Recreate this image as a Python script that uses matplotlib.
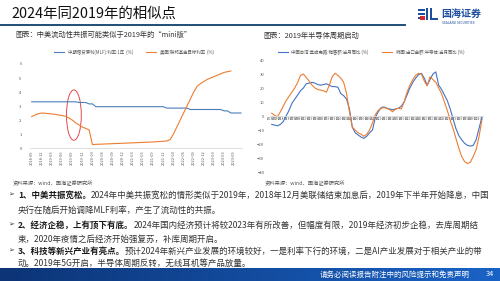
# Slide: two small Wind-style line charts plus bullet notes (2024 vs 2019)

import matplotlib.pyplot as plt
import matplotlib.patches as mpatches
from matplotlib.lines import Line2D
from matplotlib.colors import LinearSegmentedColormap
import numpy as np
import pandas as pd

plt.rcParams['font.family'] = ['Noto Sans CJK SC', 'DejaVu Sans']

# ---- left chart data: monthly, 2018-09 .. 2023-11
left_months = pd.date_range('2018-09', periods=63, freq='MS').strftime('%Y-%m')
mlf_rate = [3.3, 3.3, 3.3, 3.3, 3.3, 3.3, 3.3, 3.3, 3.3, 3.3, 3.3, 3.3, 3.3, 3.3,
            3.25, 3.25, 3.25, 3.15, 3.15,
            2.95, 2.95, 2.95, 2.95, 2.95, 2.95, 2.95, 2.95, 2.95, 2.95, 2.95,
            2.95, 2.95, 2.95, 2.95, 2.95, 2.95, 2.95, 2.95, 2.95, 2.95,
            2.85, 2.85, 2.85, 2.85, 2.85, 2.85, 2.85,
            2.75, 2.75, 2.75, 2.75, 2.75, 2.75, 2.75, 2.75, 2.75, 2.75,
            2.65, 2.65, 2.5, 2.5, 2.5, 2.5]
fed_rate = [2.25, 2.35, 2.45, 2.5, 2.48, 2.46, 2.43, 2.4, 2.36, 2.32, 2.27, 2.15,
            2.0, 1.8, 1.65, 1.5, 1.4, 1.3, 0.25, 0.26, 0.27, 0.28, 0.29, 0.3,
            0.31, 0.32, 0.33, 0.34, 0.35, 0.36, 0.37, 0.38, 0.39, 0.4, 0.41, 0.42,
            0.43, 0.45, 0.46, 0.48, 0.5, 0.6, 1.0, 1.5, 2.0, 2.5, 3.0, 3.5,
            4.0, 4.4, 4.6, 4.75, 4.9, 5.0, 5.1, 5.2, 5.3, 5.4, 5.45, 5.5]
left_legend = ['中期借贷便利(MLF):利率:1年  (%)', '美国:联邦基金目标利率  (%)']

# ---- right chart data: monthly, 2018-01 .. 2024-02
right_months = pd.date_range('2018-01', periods=74, freq='MS').strftime('%Y-%m')
semi_a = [-6, -6.5, -7, -6, -4, 0, 4, 9, 12, 15, 18, 20, 23, 23.5, 24, 23.5,
          22.5, 22, 22.5, 23, 22, 21, 21, 20.5, 16, 14.5, 12, 5, -8, -12, -13.5,
          -15, -16, -14.5, -12, -10, -1, 3, 6, 6.5, 5.5, 5, 4.5, 5, 5.5, 7, 10,
          15, 20, 24, 27, 29.5, 30.5, 27, 22, 26, 30, 31.5, 22, 19, 15, 11, 5,
          -2, -9, -14, -17, -19.5, -21, -21.5, -21, -17, -9, -1]
semi_b = [2, 0.5, -0.5, 3, 7, 11, 14, 17, 20, 24, 29, 30, 27.5, 25, 22, 20, 19,
          18.5, 18, 17, 22, 28, 30.5, 29, 27, 24, 16, 3, -8, -10, -12, -13,
          -14.5, -13, -10, -5, 1, 4, 5.5, 6, 5.5, 4.5, 3, 5, 5.5, 5, 10, 17, 22,
          26, 29, 30.5, 30, 25, 21.5, 28, 26, 24, 20, 16, 10, 4, -3, -9, -16,
          -23, -29, -32.5, -34, -33, -29, -24, -15, -3]
right_legend = ['中国台湾:集成电路:销售额:当月同比 (%)', '韩国:出口金额:半导体:当月同比 (%)']
right_yticks = [-40, -30, -20, -10, 0, 10, 20, 30, 40]

W, H = 500, 281
fig = plt.figure(figsize=(5, 2.81), dpi=100)
fig.patch.set_facecolor('white')


def fx(x):
    return x / W


def fy(y):
    return 1 - y / H


def rect(x, y, w, h, color):
    fig.add_artist(mpatches.Rectangle((fx(x), fy(y + h)), w / W, h / H,
                                      transform=fig.transFigure, color=color, lw=0))


# title and rule
fig.text(fx(11), fy(14), '2024年同2019年的相似点', fontsize=10.4, va='center', color='#111111')
fig.add_artist(Line2D([0, fx(405)], [fy(25), fy(25)], color='#1f4e79', lw=1.4,
                      transform=fig.transFigure))

# logo
blue_logo = '#1d4f9e'
for yy in (9, 13, 17):
    rect(418, yy, 7, 1.8, blue_logo)
rect(426, 8, 2.2, 12, blue_logo)
rect(420, 16.5, 5, 3.5, '#d7282f')
rect(430, 8, 2.2, 12, blue_logo)
rect(430, 18, 8, 2, blue_logo)
fig.text(fx(441), fy(14), '国海证券', fontsize=7.2, fontweight='bold', color=blue_logo, va='center')
fig.text(fx(442), fy(23.5), 'SEALAND SECURITIES', fontsize=2.3, color=blue_logo, va='center')

# captions
cap_color = '#333333'
fig.text(fx(15), fy(35), '图表：中美流动性共振可能类似于2019年的“mini版”', fontsize=5.2,
         va='center', color=cap_color)
fig.text(fx(263), fy(36), '图表：2019年半导体周期启动', fontsize=5.2, va='center', color=cap_color)
fig.text(fx(13), fy(183), '资料来源：wind、国海证券研究所', fontsize=3.8, va='center', color='#555555')
fig.text(fx(265), fy(183), '资料来源：wind、国海证券研究所', fontsize=3.8, va='center', color='#555555')

tick_color = '#595959'

# ---- left chart
ax1 = fig.add_axes([fx(30), fy(148), 212 / W, 84 / H])
h1, = ax1.plot(range(len(mlf_rate)), mlf_rate, color='#4a7ebb', lw=0.8)
h2, = ax1.plot(range(len(fed_rate)), fed_rate, color='#ed7d31', lw=0.8)
ax1.add_patch(mpatches.Ellipse((12.5, 2.35), 4.4, 3.6, fill=False, ec='#e5484d', lw=0.7))
ax1.set_ylim(0, 6)
ax1.set_xlim(-0.5, 62.3)
ax1.set_yticks(range(0, 7))
ax1.set_xticks(range(0, len(left_months), 3))
ax1.set_xticklabels(left_months[::3], rotation=90)
ax1.tick_params(axis='y', length=0, labelsize=3, labelcolor=tick_color, pad=6)
ax1.tick_params(axis='x', length=0, labelsize=2.8, labelcolor=tick_color, pad=1.5)
for s in ['top', 'right', 'left']:
    ax1.spines[s].set_visible(False)
ax1.spines['bottom'].set_color('#d9d9d9')
ax1.spines['bottom'].set_linewidth(0.6)
ax1.patch.set_alpha(0)
ax1.legend([h1, h2], left_legend, loc='center', bbox_to_anchor=(fx(134), fy(52)),
           bbox_transform=fig.transFigure, ncol=2, frameon=False, fontsize=3.2,
           handlelength=2.3, columnspacing=3, labelcolor=tick_color)

# ---- right chart
ax2 = fig.add_axes([fx(270), fy(172), 213 / W, 112 / H])
g1, = ax2.plot(range(len(semi_a)), semi_a, color='#4472c4', lw=0.8)
g2, = ax2.plot(range(len(semi_b)), semi_b, color='#ed7d31', lw=0.8)
ax2.set_ylim(-40, 40)
ax2.set_xlim(-0.6, 73.4)
ax2.set_yticks(right_yticks)
ax2.set_xticks(range(0, len(right_months), 2))
ax2.set_xticklabels(right_months[::2], rotation=90)
ax2.spines['bottom'].set_position(('data', 0))
ax2.spines['bottom'].set_color('#d9d9d9')
ax2.spines['bottom'].set_linewidth(0.6)
for s in ['top', 'right', 'left']:
    ax2.spines[s].set_visible(False)
ax2.tick_params(axis='y', length=0, labelsize=3, labelcolor=tick_color, pad=4)
ax2.tick_params(axis='x', length=0, labelsize=2.0, labelcolor=tick_color, pad=1)
ax2.patch.set_alpha(0)
ax2.legend([g1, g2], right_legend, loc='center', bbox_to_anchor=(fx(371), fy(52)),
           bbox_transform=fig.transFigure, ncol=2, frameon=False, fontsize=3.2,
           handlelength=2.3, columnspacing=3, labelcolor=tick_color)

# ---- bullet notes
renderer = fig.canvas.get_renderer()
text_color = '#333333'


def rich_line(x, y, parts):
    for s, bold in parts:
        t = fig.text(fx(x), fy(y), s, fontsize=6.1, va='center',
                     fontweight='bold' if bold else 'normal',
                     color='#1a1a1a' if bold else text_color)
        x += t.get_window_extent(renderer).width


notes = [
    (195, True, [('1、中美共振宽松。', True),
                 ('2024年中美共振宽松的情形类似于2019年，2018年12月美联储结束加息后，2019年下半年开始降息，中国', False)]),
    (210, False, [('央行在随后开始调降MLF利率，产生了流动性的共振。', False)]),
    (225, True, [('2、经济企稳，上有顶下有底。', True),
                 ('2024年国内经济预计将较2023年有所改善，但幅度有限，2019年经济初步企稳，去库周期结', False)]),
    (239, False, [('束，2020年疫情之后经济开始强复苏，补库周期开启。', False)]),
    (251, True, [('3、科技等新兴产业有亮点。', True),
                 ('预计2024年新兴产业发展的环境较好，一是利率下行的环境，二是AI产业发展对于相关产业的带', False)]),
    (263, False, [('动。2019年5G开启，半导体周期反转，无线耳机等产品放量。', False)]),
]
for y, arrow, parts in notes:
    if arrow:
        fig.text(fx(8), fy(y), '➢', fontsize=5, va='center', color='#333333',
                 family=['DejaVu Sans'])
    rich_line(18, y, parts)

# ---- footer bar
axf = fig.add_axes([0, 0, 1, 13 / H])
grad = np.linspace(0, 1, 256).reshape(1, -1)
axf.imshow(grad, aspect='auto', extent=[0, 1, 0, 1],
           cmap=LinearSegmentedColormap.from_list('bar', ['#0c3476', '#1a63c6']))
axf.axis('off')
fig.text(fx(320), fy(274.5), '请务必阅读报告附注中的风险提示和免责声明', fontsize=5.4,
         va='center', color='white')
fig.text(fx(486), fy(274.5), '34', fontsize=5.4, va='center', color='white')

plt.savefig('out.png', dpi=100)
